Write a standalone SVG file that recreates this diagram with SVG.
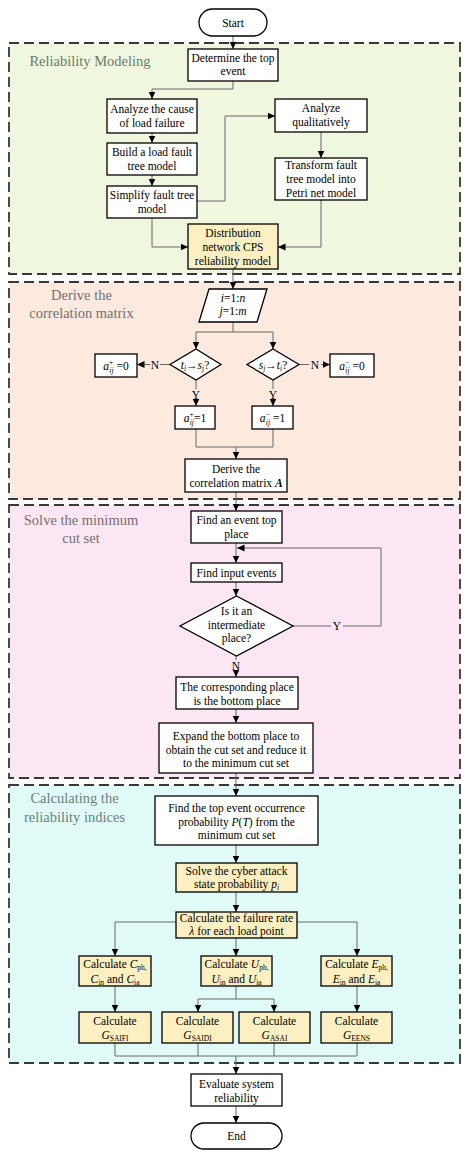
<svg xmlns="http://www.w3.org/2000/svg" width="474" height="1155" viewBox="0 0 474 1155">
<style>
.bg{fill:#ffffff}
.panel{stroke:#383838;stroke-width:1.8;stroke-dasharray:10 5}
.box{fill:#ffffff;stroke:#000;stroke-width:1.3}
.ybox{fill:#fcf0c2;stroke:#000;stroke-width:1.3}
.t{font-family:"Liberation Serif","Times New Roman",serif;font-size:11.5px;fill:#000;text-anchor:middle}
.ttl{font-family:"Liberation Serif","Times New Roman",serif;font-size:14.5px;text-anchor:middle}
.conn path{fill:none;stroke:#666;stroke-width:1}
.a{marker-end:url(#arr)}
.i{font-style:italic}
.s{font-size:7.5px}
</style>
<defs>
<marker id="arr" markerUnits="userSpaceOnUse" markerWidth="8" markerHeight="8" refX="7.5" refY="3.5" orient="auto">
<path d="M0,0 L7.5,3.5 L0,7 z" fill="#000"/>
</marker>
</defs>
<rect class="bg" x="0" y="0" width="474" height="1155"/>

<g id="panels">
<rect id="panel-modeling" class="panel" x="9" y="43" width="451" height="231" fill="#eff8df"/>
<rect id="panel-matrix" class="panel" x="9" y="282" width="451" height="217" fill="#fde9de"/>
<rect id="panel-cutset" class="panel" x="9" y="505" width="451" height="273" fill="#fce6f3"/>
<rect id="panel-indices" class="panel" x="9" y="785" width="451" height="278" fill="#e0fbf7"/>
<text class="ttl" x="90" y="66" fill="#6e7a68">Reliability Modeling</text>
<text class="ttl" x="81.5" y="300" fill="#737070">Derive the</text>
<text class="ttl" x="81.5" y="318" fill="#737070">correlation matrix</text>
<text class="ttl" x="81" y="525" fill="#737070">Solve the minimum</text>
<text class="ttl" x="81" y="543" fill="#737070">cut set</text>
<text class="ttl" x="74.5" y="803" fill="#6a7f7e">Calculating the</text>
<text class="ttl" x="74.5" y="822" fill="#6a7f7e">reliability indices</text>
</g>

<g class="conn">
<path class="a" d="M233 36 V49"/>
<path class="a" d="M233 81 V89 H152 V99"/>
<path class="a" d="M152 133 V143"/>
<path class="a" d="M152 175 V186"/>
<path class="a" d="M197 201 H225 V116 H275"/>
<path class="a" d="M321 132 V158"/>
<path class="a" d="M152 218 V247 H188"/>
<path class="a" d="M321 200 V247 H278"/>
<path class="a" d="M233 269 V289"/>
<path class="a" d="M233 322 V332 H196 V349"/>
<path class="a" d="M233 332 H273 V349"/>
<path d="M170 364.5 H160"/>
<path class="a" d="M150 364.5 H137"/>
<path d="M299 364.5 H309"/>
<path class="a" d="M321 364.5 H330"/>
<path d="M196 380 V389"/>
<path class="a" d="M196 401 V406"/>
<path d="M273 380 V389"/>
<path class="a" d="M273 401 V406"/>
<path d="M196 429 V447 H273 V429"/>
<path class="a" d="M236 447 V459"/>
<path class="a" d="M236 492 V511"/>
<path class="a" d="M236 543 V563"/>
<path class="a" d="M236 582 V596"/>
<path d="M293 626 H331"/>
<path class="a" d="M343 626 H381 V548 H237"/>
<path d="M236 656 V660"/>
<path class="a" d="M236 672 V677"/>
<path class="a" d="M236 709 V723"/>
<path class="a" d="M236 773 V796"/>
<path class="a" d="M236 845 V863"/>
<path class="a" d="M236 892 V912"/>
<path class="a" d="M176 922 H115 V956"/>
<path class="a" d="M297 922 H357 V956"/>
<path class="a" d="M236 938 V956"/>
<path class="a" d="M236 986 V999 H198 V1012"/>
<path class="a" d="M236 999 H274 V1012"/>
<path class="a" d="M115 986 V1012"/>
<path class="a" d="M357 986 V1012"/>
<path d="M115 1043 V1056 H357 V1043"/>
<path d="M198 1043 V1056"/>
<path d="M274 1043 V1056"/>
<path class="a" d="M236 1056 V1074"/>
<path class="a" d="M236 1106 V1123"/>
<text class="t" x="155" y="368.5">N</text>
<text class="t" x="315" y="368.5">N</text>
<text class="t" x="196" y="399">Y</text>
<text class="t" x="273" y="399">Y</text>
<text class="t" x="337" y="630">Y</text>
<text class="t" x="236" y="670">N</text>
</g>

<g id="start">
<rect class="box" x="199" y="9" width="68" height="27" rx="13.5"/>
<text class="t" x="233" y="27">Start</text>
</g>
<g id="determine">
<rect class="box" x="188" y="49" width="90" height="32"/>
<text class="t" x="233" y="62">Determine the top</text>
<text class="t" x="233" y="75">event</text>
</g>
<g id="analyze-cause">
<rect class="box" x="107" y="99" width="90" height="34"/>
<text class="t" x="152" y="113">Analyze the cause</text>
<text class="t" x="152" y="127">of load failure</text>
</g>
<g id="analyze-qual">
<rect class="box" x="275" y="99" width="92" height="33"/>
<text class="t" x="321" y="112">Analyze</text>
<text class="t" x="321" y="126">qualitatively</text>
</g>
<g id="build">
<rect class="box" x="107" y="143" width="90" height="32"/>
<text class="t" x="152" y="156">Build a load fault</text>
<text class="t" x="152" y="170">tree model</text>
</g>
<g id="simplify">
<rect class="box" x="107" y="186" width="90" height="32"/>
<text class="t" x="152" y="199">Simplify fault tree</text>
<text class="t" x="152" y="213">model</text>
</g>
<g id="transform">
<rect class="box" x="275" y="158" width="92" height="42"/>
<text class="t" x="321" y="169">Transform fault</text>
<text class="t" x="321" y="183">tree model into</text>
<text class="t" x="321" y="197">Petri net model</text>
</g>
<g id="cps-model">
<rect class="ybox" x="188" y="224" width="90" height="45"/>
<text class="t" x="233" y="237">Distribution</text>
<text class="t" x="233" y="251">network CPS</text>
<text class="t" x="233" y="265">reliability model</text>
</g>
<g id="loop-ij">
<polygon class="box" points="209,289 267,289 257,322 199,322"/>
<text class="t" x="233" y="302"><tspan class="i">i</tspan>=1:<tspan class="i">n</tspan></text>
<text class="t" x="233" y="315"><tspan class="i">j</tspan>=1:<tspan class="i">m</tspan></text>
</g>
<g id="dec-ts">
<polygon class="box" points="196,349 221,364.5 196,380 170,364.5"/>
<text class="t" x="195" y="368.5"><tspan class="i">t</tspan><tspan class="i s" dy="2">i</tspan><tspan dy="-2">→</tspan><tspan class="i">s</tspan><tspan class="i s" dy="2">j</tspan><tspan dy="-2">?</tspan></text>
</g>
<g id="dec-st">
<polygon class="box" points="273,349 299,364.5 273,380 247,364.5"/>
<text class="t" x="273" y="368.5"><tspan class="i">s</tspan><tspan class="i s" dy="2">j</tspan><tspan dy="-2">→</tspan><tspan class="i">t</tspan><tspan class="i s" dy="2">i</tspan><tspan dy="-2">?</tspan></text>
</g>
<g id="a-plus-0">
<rect class="box" x="95" y="354" width="42" height="23"/>
<text class="t" x="116" y="369.5"><tspan class="i">a</tspan><tspan class="s" dy="-5">+</tspan><tspan class="i s" dx="-4" dy="8">ij</tspan><tspan dy="-3"> =0</tspan></text>
</g>
<g id="a-minus-0">
<rect class="box" x="330" y="354" width="44" height="23"/>
<text class="t" x="352" y="369.5"><tspan class="i">a</tspan><tspan class="s" dy="-5">−</tspan><tspan class="i s" dx="-4" dy="8">ij</tspan><tspan dy="-3"> =0</tspan></text>
</g>
<g id="a-plus-1">
<rect class="box" x="175" y="406" width="40" height="23"/>
<text class="t" x="195" y="421.5"><tspan class="i">a</tspan><tspan class="s" dy="-5">+</tspan><tspan class="i s" dx="-4" dy="8">ij</tspan><tspan dy="-3">=1</tspan></text>
</g>
<g id="a-minus-1">
<rect class="box" x="252" y="406" width="41" height="23"/>
<text class="t" x="272.5" y="421.5"><tspan class="i">a</tspan><tspan class="s" dy="-5">−</tspan><tspan class="i s" dx="-4" dy="8">ij</tspan><tspan dy="-3"> =1</tspan></text>
</g>
<g id="derive-A">
<rect class="box" x="185" y="459" width="102" height="33"/>
<text class="t" x="236" y="473">Derive the</text>
<text class="t" x="236" y="487">correlation matrix <tspan font-weight="bold" class="i">A</tspan></text>
</g>
<g id="find-top-place">
<rect class="box" x="191" y="511" width="91" height="32"/>
<text class="t" x="236.5" y="524">Find an event top</text>
<text class="t" x="236.5" y="538">place</text>
</g>
<g id="find-input">
<rect class="box" x="191" y="563" width="91" height="19"/>
<text class="t" x="236.5" y="576.5">Find input events</text>
</g>
<g id="dec-intermediate">
<polygon class="box" points="236.5,596 293,626 236.5,656 180,626"/>
<text class="t" x="236.5" y="615">Is it an</text>
<text class="t" x="236.5" y="629">intermediate</text>
<text class="t" x="236.5" y="642">place?</text>
</g>
<g id="bottom-place">
<rect class="box" x="176" y="677" width="122" height="32"/>
<text class="t" x="237" y="691">The corresponding place</text>
<text class="t" x="237" y="705">is the bottom place</text>
</g>
<g id="expand">
<rect class="box" x="159" y="723" width="154" height="50"/>
<text class="t" x="236" y="740">Expand the bottom place to</text>
<text class="t" x="236" y="753.5">obtain the cut set and reduce it</text>
<text class="t" x="236" y="767">to the minimum cut set</text>
</g>
<g id="find-prob">
<rect class="box" x="155" y="796" width="163" height="49"/>
<text class="t" x="236.5" y="812">Find the top event occurrence</text>
<text class="t" x="236.5" y="825.5">probability <tspan class="i">P</tspan>(<tspan class="i">T</tspan>) from the</text>
<text class="t" x="236.5" y="839">minimum cut set</text>
</g>
<g id="cyber-prob">
<rect class="ybox" x="176" y="863" width="121" height="29"/>
<text class="t" x="236.5" y="874.5">Solve the cyber attack</text>
<text class="t" x="236.5" y="888">state probability <tspan class="i">p</tspan><tspan class="i s" dy="2">i</tspan></text>
</g>
<g id="failure-rate">
<rect class="ybox" x="176" y="912" width="121" height="26"/>
<text class="t" x="236.5" y="922">Calculate the failure rate</text>
<text class="t" x="236.5" y="935"><tspan class="i">λ</tspan> for each load point</text>
</g>
<g id="calc-C">
<rect class="ybox" x="79" y="956" width="72" height="30"/>
<text class="t" x="115" y="968">Calculate <tspan class="i">C</tspan><tspan class="s" dy="2">ph,</tspan></text>
<text class="t" x="115" y="983"><tspan class="i">C</tspan><tspan class="s" dy="2">in</tspan><tspan dy="-2"> and </tspan><tspan class="i">C</tspan><tspan class="s" dy="2">ia</tspan></text>
</g>
<g id="calc-U">
<rect class="ybox" x="201" y="956" width="71" height="30"/>
<text class="t" x="236.5" y="968">Calculate <tspan class="i">U</tspan><tspan class="s" dy="2">ph,</tspan></text>
<text class="t" x="236.5" y="983"><tspan class="i">U</tspan><tspan class="s" dy="2">in</tspan><tspan dy="-2"> and </tspan><tspan class="i">U</tspan><tspan class="s" dy="2">ia</tspan></text>
</g>
<g id="calc-E">
<rect class="ybox" x="321" y="956" width="71" height="30"/>
<text class="t" x="356.5" y="968">Calculate <tspan class="i">E</tspan><tspan class="s" dy="2">ph,</tspan></text>
<text class="t" x="356.5" y="983"><tspan class="i">E</tspan><tspan class="s" dy="2">in</tspan><tspan dy="-2"> and </tspan><tspan class="i">E</tspan><tspan class="s" dy="2">ia</tspan></text>
</g>
<g id="calc-SAIFI">
<rect class="ybox" x="79" y="1012" width="72" height="31"/>
<text class="t" x="115" y="1025">Calculate</text>
<text class="t" x="115" y="1039"><tspan class="i">G</tspan><tspan class="s" dy="2">SAIFI</tspan></text>
</g>
<g id="calc-SAIDI">
<rect class="ybox" x="162" y="1012" width="71" height="31"/>
<text class="t" x="197.5" y="1025">Calculate</text>
<text class="t" x="197.5" y="1039"><tspan class="i">G</tspan><tspan class="s" dy="2">SAIDI</tspan></text>
</g>
<g id="calc-ASAI">
<rect class="ybox" x="239" y="1012" width="71" height="31"/>
<text class="t" x="274.5" y="1025">Calculate</text>
<text class="t" x="274.5" y="1039"><tspan class="i">G</tspan><tspan class="s" dy="2">ASAI</tspan></text>
</g>
<g id="calc-EENS">
<rect class="ybox" x="321" y="1012" width="71" height="31"/>
<text class="t" x="356.5" y="1025">Calculate</text>
<text class="t" x="356.5" y="1039"><tspan class="i">G</tspan><tspan class="s" dy="2">EENS</tspan></text>
</g>
<g id="evaluate">
<rect class="box" x="191" y="1074" width="91" height="32"/>
<text class="t" x="236.5" y="1088">Evaluate system</text>
<text class="t" x="236.5" y="1102">reliability</text>
</g>
<g id="end">
<rect class="box" x="191" y="1123" width="91" height="26" rx="13"/>
<text class="t" x="236.5" y="1140">End</text>
</g>
</svg>
